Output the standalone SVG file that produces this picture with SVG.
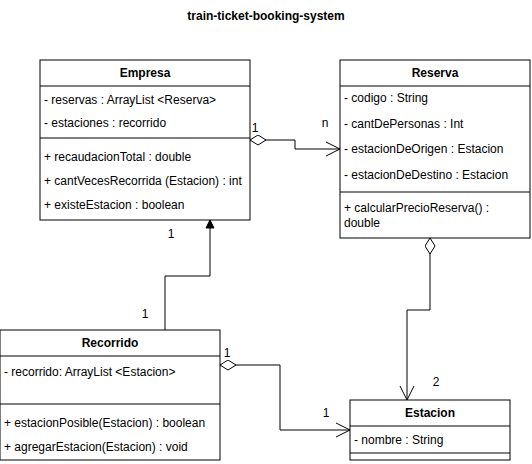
<svg xmlns="http://www.w3.org/2000/svg" width="532" height="464" viewBox="0 0 532 464">
<style>
text{font-family:"Liberation Sans",Arial,sans-serif;font-size:12px;fill:#000}
.t{font-weight:bold;text-anchor:middle}
.m{text-anchor:middle}
.box{fill:#fff;stroke:#000;stroke-width:1}
.ln{stroke:#000;stroke-width:1}
.c{fill:none;stroke:#000;stroke-width:1}
</style>
<defs>
<marker id="diamond" viewBox="0 0 17 11" refX="0.5" refY="5.5" markerWidth="17" markerHeight="11" markerUnits="userSpaceOnUse" orient="auto"><path d="M0.5,5.5 L8.5,0.5 L16.5,5.5 L8.5,10.5 Z" fill="#fff" stroke="#000"/></marker>
<marker id="open" viewBox="0 0 16 16" refX="15" refY="8" markerWidth="16" markerHeight="16" markerUnits="userSpaceOnUse" orient="auto"><path d="M1,1 L15,8 L1,15" fill="none" stroke="#000"/></marker>
<marker id="block" viewBox="0 0 10 10" refX="9" refY="5" markerWidth="10" markerHeight="10" markerUnits="userSpaceOnUse" orient="auto"><path d="M1,1 L9,5 L1,9 Z" fill="#000" stroke="#000"/></marker>
</defs>
<rect width="532" height="464" fill="#fff"/>
<text class="t" x="266" y="20">train-ticket-booking-system</text>

<g id="connectors">
<path class="c" d="M250,140 H295 V149 H340" marker-start="url(#diamond)" marker-end="url(#open)"/>
<path class="c" d="M165,330 V276 H210 V220" marker-end="url(#block)"/>
<path class="c" d="M430,238 V310 H407 V400" marker-start="url(#diamond)" marker-end="url(#open)"/>
<path class="c" d="M220,365 H280 V430 H350" marker-start="url(#diamond)" marker-end="url(#open)"/>
<text class="m" x="255" y="132">1</text>
<text class="m" x="325" y="127">n</text>
<text class="m" x="171" y="238">1</text>
<text class="m" x="145" y="318">1</text>
<text class="m" x="439" y="235">1</text>
<text class="m" x="436" y="386">2</text>
<text class="m" x="227" y="357">1</text>
<text class="m" x="326" y="417">1</text>
</g>

<g id="Empresa">
<rect class="box" x="40" y="60" width="210" height="160"/>
<line class="ln" x1="40" y1="86" x2="250" y2="86"/>
<line class="ln" x1="40" y1="138" x2="250" y2="138"/>
<text class="t" x="145" y="77">Empresa</text>
<text x="44" y="104">- reservas : ArrayList &lt;Reserva&gt;</text>
<text x="44" y="127">- estaciones : recorrido</text>
<text x="44" y="161">+ recaudacionTotal : double</text>
<text x="44" y="185">+ cantVecesRecorrida (Estacion) : int</text>
<text x="44" y="209">+ existeEstacion : boolean</text>
</g>

<g id="Reserva">
<rect class="box" x="340" y="60" width="190" height="178"/>
<line class="ln" x1="340" y1="86" x2="530" y2="86"/>
<line class="ln" x1="340" y1="192" x2="530" y2="192"/>
<text class="t" x="435" y="77">Reserva</text>
<text x="344" y="102">- codigo : String</text>
<text x="344" y="128">- cantDePersonas : Int</text>
<text x="344" y="153">- estacionDeOrigen : Estacion</text>
<text x="344" y="179">- estacionDeDestino : Estacion</text>
<text x="344" y="212">+ calcularPrecioReserva() :</text>
<text x="344" y="227">double</text>
</g>

<g id="Recorrido">
<rect class="box" x="0" y="330" width="220" height="130"/>
<line class="ln" x1="0" y1="356" x2="220" y2="356"/>
<line class="ln" x1="0" y1="404" x2="220" y2="404"/>
<text class="t" x="110" y="347">Recorrido</text>
<text x="4" y="376">- recorrido: ArrayList &lt;Estacion&gt;</text>
<text x="4" y="427">+ estacionPosible(Estacion) : boolean</text>
<text x="4" y="451">+ agregarEstacion(Estacion) : void</text>
</g>

<g id="Estacion">
<rect class="box" x="350" y="400" width="160" height="60"/>
<line class="ln" x1="350" y1="426" x2="510" y2="426"/>
<line class="ln" x1="350" y1="453" x2="510" y2="453"/>
<text class="t" x="430" y="417">Estacion</text>
<text x="354" y="444">- nombre : String</text>
</g>
</svg>
